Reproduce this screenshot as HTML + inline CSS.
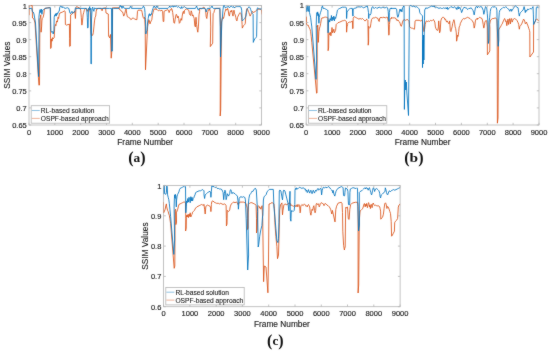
<!DOCTYPE html>
<html><head><meta charset="utf-8"><title>SSIM figure</title>
<style>
html,body{margin:0;padding:0;background:#fff;}
body{width:550px;height:352px;overflow:hidden;}
svg{display:block;}
.tk{font-family:"Liberation Sans",Arial,sans-serif;font-size:7.5px;fill:#1e1e1e;stroke:#1e1e1e;stroke-width:0.15px;}
.al{font-family:"Liberation Sans",Arial,sans-serif;font-size:8.3px;fill:#1e1e1e;stroke:#1e1e1e;stroke-width:0.15px;}
.lg{font-family:"Liberation Sans",Arial,sans-serif;font-size:6.65px;fill:#1a1a1a;stroke:#1a1a1a;stroke-width:0.1px;}
.cap{font-family:"Liberation Serif","Times New Roman",serif;font-size:13.3px;font-weight:bold;fill:#111;}
.par{font-size:16px;font-weight:bold;}
</style></head><body>
<svg width="550" height="352" viewBox="0 0 550 352">
<defs><filter id="soft" x="0" y="0" width="550" height="352" filterUnits="userSpaceOnUse" color-interpolation-filters="sRGB"><feConvolveMatrix order="3" kernelMatrix="1 2 1 2 32 2 1 2 1" divisor="44" edgeMode="duplicate"/></filter></defs>
<g filter="url(#soft)">
<rect width="550" height="352" fill="#fff"/>
<clipPath id="clipa"><rect x="29" y="4.5" width="232.5" height="120.5"/></clipPath>
<rect x="29" y="5.5" width="232.5" height="119.5" fill="none" stroke="#b4b4b4" stroke-width="0.8"/>
<g clip-path="url(#clipa)" fill="none" stroke-width="0.85" stroke-linejoin="round">
<polyline points="29,15.2 29.1,5.6 32.2,5.6 32.5,18 33.5,18.5 34.2,20 35,23 38.9,85.2 39.5,85 39.8,30 39.2,19.7 39.9,18.5 40.4,17.3 40.8,14.9 41.1,32.2 41.6,26.9 41.9,20.9 42.3,18.5 43.1,17.3 43.7,14.9 44.3,10.2 44.9,8.4 47.9,7.8 49.7,7.5 50.3,8.4 50.5,38.8 50.6,48.5 51.2,47.5 51.5,38.8 52.1,41.2 52.7,37.6 53.2,38.8 54.2,37.6 54.7,26.9 55.4,24.5 55.9,25.7 56.6,20.9 57.4,22.1 58,17.3 58.6,18.5 59.2,14.9 59.8,13.1 61,12.6 62.8,11.9 64.6,10.8 65.2,11.9 65.4,24.5 66.4,25.1 68.2,24.5 69,24.5 69.4,23.9 69.6,38.8 69.7,46.5 70.3,46 70.6,14.9 71.8,14.3 73,12.6 74.2,11.9 74.8,11.3 75.4,18.5 76,7.8 76.6,6.6 77.8,7.2 79,7.8 80.1,8.4 80.7,10.2 81.3,17.3 81.9,25.1 82.5,20.9 83.1,14.9 83.7,12.6 84.3,10.2 85.5,8.4 86.7,9.6 87.3,11.3 87.9,9.6 89.1,8.4 89.7,10.2 90.3,12.6 90.9,32.8 91.5,35.8 92.7,35.2 93.3,32.8 93.9,26.9 94.5,20.9 95.1,17.3 95.7,16.1 96.2,11.3 96.8,9 98.6,8.4 101,8.4 101.6,10.2 102.2,10.8 102.8,8.4 105.8,7.8 105.7,8.8 106,13 108.3,14 108.6,36 109.6,37.8 110.5,34.5 111.2,58.2 111.7,53 112.2,41 112.5,7.8 113.6,7.8 119,7.8 119.6,9.6 120.8,10.2 121.3,11.3 122.5,11.9 123.1,13.7 123.7,16.1 124.3,14.9 124.9,13.1 125.5,10.2 126.1,9 126.7,13.7 127.3,16.7 128.5,17.3 129.7,17.9 130.9,19.7 132.1,18.5 133.3,17.9 134.5,19.1 136.9,19.7 137.5,11.3 138.1,10.2 141.6,10.2 142.2,12.6 142.8,16.1 143.4,17.9 144,18.5 144.6,17.3 145.2,26.9 145.5,69.8 147.6,26.9 148.2,23.3 148.8,19.7 149.4,20.9 150,23.9 150.6,22.1 151.2,20.9 151.8,19.7 152.4,14.9 153,12.6 153.6,10.2 154.2,9 155.4,9 156,9.6 156,9 157.2,9.6 158.4,10.8 159.6,10.2 160.8,10.8 162,10.2 162.6,11.3 163.2,21.5 163.8,21.5 164.1,11.3 164.9,10.8 166.7,10.2 167.9,9.6 168.5,10.2 169.1,12.6 169.7,10.8 170.3,9.6 170.9,10.2 171.5,8.4 172.1,9.6 172.7,12.6 173.3,17.3 173.9,22.7 174.5,23.3 175.1,19.7 175.7,16.1 176.3,14.3 176.9,15.5 177.5,17.9 178.1,16.1 178.7,18.5 179.3,23.3 179.9,22.7 180.5,19.7 181.1,18.5 181.7,20.3 182.2,16.1 182.8,12.6 183.4,11.3 184,13.7 184.6,10.2 185.2,9.6 186.4,9 187.6,9.6 188.8,10.2 189.4,13.7 190,14.9 190.6,15.5 191.2,10.8 191.8,12.6 192.4,16.1 193,14.9 193.6,16.7 194.2,18.5 194.8,25.7 195.4,26.9 196,17.3 196.6,24.5 197.2,29.2 197.8,32.2 198.4,26.9 199,14.9 199.6,11.3 199.6,9 200.2,8.4 201.4,9 202.6,7.8 203.8,7.2 204.4,7.8 205,8.4 205.6,10.2 206.2,16.7 206.8,18.5 207.3,14.9 207.9,11.3 208.6,9.6 209.1,10.2 209.7,9 210.3,11.3 210.7,26.9 210.3,46.6 212.7,43.2 212.8,30 213.1,13.7 213.9,12.6 214.5,10.2 215.1,9 215.7,8.4 218.1,8.4 219.3,8.4 219.9,9 220.5,26.9 220.2,116 220.7,110 221.5,22 222.3,18.5 222.9,17.3 223.5,18.5 224.1,16.1 224.7,12.6 225.2,11.3 225.8,9 227,10.2 227.6,8.4 228.2,10.2 228.8,14.9 229.4,16.1 230,12.6 230.6,10.8 231.2,11.9 231.8,10.2 232.4,13.7 233,16.1 233.4,12.6 234,10.2 234.6,13.7 235.2,14.9 235.8,17.3 236.3,19.7 236.9,20.9 237.6,17.3 238.1,16.1 238.7,14.9 239.3,13.7 239.9,12.6 240.5,13.1 241.1,13.7 241.7,17.3 242.1,24.5 242.3,28.1 242.9,26.9 243.5,25.7 244.1,25.1 244.7,24.5 245.3,23.3 245.9,13.7 246.5,10.2 247.1,8.4 247.7,9.6 248.3,11.3 248.9,12.6 249.5,14.3 250.1,16.1 250.7,14.9 251.3,13.7 251.9,12.6 252.5,11.3 253.1,11.9 253.7,12.6 254.2,11.9 255.4,11.3 256.6,10.2 257.8,9.6 259,9 260.2,9 261.4,10.2 262,13.7 262.4,14.9" stroke="#D95319"/>
<polyline points="29,8.7 31.8,8.2 32.3,11.5 33.2,12 34,14 34.5,17 35.5,23 38.6,76.6 39,30 38.9,17.3 39.5,11.9 40.1,9.6 40.7,12.6 41.3,9 41.9,14.3 42.5,10.2 43.7,9.6 44.9,8.4 47.3,8 49.7,7.8 50.3,7.5 50.9,30.4 51.5,32.2 52.7,31.6 53.2,34 53.9,31 54.2,17.3 54.7,14.9 55.4,15.5 55.6,13.7 56.2,16.1 56.8,13.1 57.4,14.3 58.3,11.9 59.2,11.3 59.8,7.2 60.6,6 61.6,6.6 62.2,7.8 62.8,6.6 64,7.8 65.2,8.4 66.4,8 67.6,7.8 68.8,8.4 70,13.1 70.6,13.7 71.2,12.6 72,11.3 72.4,13.1 73.6,12.6 74.8,11.9 75.4,7.8 76,8.4 86.7,8.4 87.3,17.3 87.7,28.1 88.1,26.9 88.5,8.4 89.3,8.4 89.7,6.6 90,10.2 90.4,8.4 90.8,8.4 90.9,38.8 91,63.9 91.3,63.9 91.5,20 92.1,8.4 92.7,7.2 93.3,10.2 93.9,11.3 94.5,7.8 95.1,8.4 109.4,8.4 111.5,8.4 111.7,51.4 112.3,51 112.6,8.4 113.6,8.4 119,8.4 119.6,7.2 120.2,5.4 120.8,6.6 121.3,6 122,8.4 122.5,6.6 123.1,6 123.7,7.8 124.9,8.4 126.1,8.4 129.7,8.4 130.3,6.6 130.9,6 131.5,8.4 141.6,8.4 142.8,7.8 143.4,6 144,6.6 144.6,8.4 145,12.6 145.2,17.3 145.5,19.7 145.8,34 146.4,31.6 147,30.4 147.6,22.1 148.2,18.5 148.8,14.9 149.4,13.7 150,16.1 150.6,14.3 151.2,14.9 151.8,12.6 152.4,10.2 153,8.4 153.6,6.6 154.2,6 154.8,7.2 156,8.4 156,6.6 157.2,6 157.8,7.8 158.4,8.4 167.9,8.4 169.1,7.2 169.7,6 170.3,7.2 171.5,6.6 172.7,6 173.3,7.2 173.9,6 175.1,6.6 176.3,6 177.5,7.2 178.7,6.6 179.9,7.8 181.1,8.4 181.7,6.6 182.2,8.4 183.4,7.2 184.6,6.6 185.8,7.8 187,8.4 195.4,8.4 196,7.2 196.6,6 197.2,7.8 197.8,9 198.4,10.2 199,9 199,8.4 205,8.4 205.6,9.6 206.2,11.9 206.8,10.2 207.3,8.4 210.3,8.4 210.9,7.8 211.5,6.6 212.1,6 212.7,7.8 213.3,8.4 219.3,8.4 219.9,7.8 220.2,26.9 220.5,57 221,45 221.9,20.9 222.4,17.3 222.9,10.2 223.5,6 224.1,5.4 224.7,6.6 225.2,7.8 226.4,7.2 228.8,6.6 229.4,7.8 230,7.2 231.2,6 232.4,7.2 233.6,6.6 234,7.8 235.2,7.2 236.3,6.6 237.6,6.6 238.7,6.6 239.9,6.6 241.1,7.2 241.7,10.2 242.1,19.7 242.3,20.9 243.5,19.7 244.7,18.5 245.3,17.3 245.9,16.1 246.5,12.6 247.1,9 247.7,8.4 248.3,7.8 248.9,6.6 249.5,7.2 250.1,7.8 250.7,9.6 251.3,11.3 251.9,12.6 252.5,13.7 253.1,14.3 253.3,42.4 253.7,41.2 254.8,38.8 256,37.6 256.6,36.4 256.9,20.9 257.1,9 257.6,7.8 258.4,8.4 259.6,9 261.4,9 262.6,8.4" stroke="#0072BD"/>
</g>
<line x1="29" y1="5.5" x2="31.2" y2="5.5" stroke="#b4b4b4" stroke-width="0.8"/>
<line x1="261.5" y1="5.5" x2="259.3" y2="5.5" stroke="#b4b4b4" stroke-width="0.8"/>
<text x="26.8" y="8.5" class="tk" text-anchor="end">1</text>
<line x1="29" y1="22.6" x2="31.2" y2="22.6" stroke="#b4b4b4" stroke-width="0.8"/>
<line x1="261.5" y1="22.6" x2="259.3" y2="22.6" stroke="#b4b4b4" stroke-width="0.8"/>
<text x="26.8" y="25.6" class="tk" text-anchor="end">0.95</text>
<line x1="29" y1="39.6" x2="31.2" y2="39.6" stroke="#b4b4b4" stroke-width="0.8"/>
<line x1="261.5" y1="39.6" x2="259.3" y2="39.6" stroke="#b4b4b4" stroke-width="0.8"/>
<text x="26.8" y="42.6" class="tk" text-anchor="end">0.9</text>
<line x1="29" y1="56.7" x2="31.2" y2="56.7" stroke="#b4b4b4" stroke-width="0.8"/>
<line x1="261.5" y1="56.7" x2="259.3" y2="56.7" stroke="#b4b4b4" stroke-width="0.8"/>
<text x="26.8" y="59.7" class="tk" text-anchor="end">0.85</text>
<line x1="29" y1="73.8" x2="31.2" y2="73.8" stroke="#b4b4b4" stroke-width="0.8"/>
<line x1="261.5" y1="73.8" x2="259.3" y2="73.8" stroke="#b4b4b4" stroke-width="0.8"/>
<text x="26.8" y="76.8" class="tk" text-anchor="end">0.8</text>
<line x1="29" y1="90.9" x2="31.2" y2="90.9" stroke="#b4b4b4" stroke-width="0.8"/>
<line x1="261.5" y1="90.9" x2="259.3" y2="90.9" stroke="#b4b4b4" stroke-width="0.8"/>
<text x="26.8" y="93.9" class="tk" text-anchor="end">0.75</text>
<line x1="29" y1="107.9" x2="31.2" y2="107.9" stroke="#b4b4b4" stroke-width="0.8"/>
<line x1="261.5" y1="107.9" x2="259.3" y2="107.9" stroke="#b4b4b4" stroke-width="0.8"/>
<text x="26.8" y="110.9" class="tk" text-anchor="end">0.7</text>
<line x1="29" y1="125" x2="31.2" y2="125" stroke="#b4b4b4" stroke-width="0.8"/>
<line x1="261.5" y1="125" x2="259.3" y2="125" stroke="#b4b4b4" stroke-width="0.8"/>
<text x="26.8" y="128" class="tk" text-anchor="end">0.65</text>
<line x1="29" y1="125" x2="29" y2="122.8" stroke="#b4b4b4" stroke-width="0.8"/>
<line x1="29" y1="5.5" x2="29" y2="7.7" stroke="#b4b4b4" stroke-width="0.8"/>
<text x="29" y="134.6" class="tk" text-anchor="middle">0</text>
<line x1="54.8" y1="125" x2="54.8" y2="122.8" stroke="#b4b4b4" stroke-width="0.8"/>
<line x1="54.8" y1="5.5" x2="54.8" y2="7.7" stroke="#b4b4b4" stroke-width="0.8"/>
<text x="54.8" y="134.6" class="tk" text-anchor="middle">1000</text>
<line x1="80.7" y1="125" x2="80.7" y2="122.8" stroke="#b4b4b4" stroke-width="0.8"/>
<line x1="80.7" y1="5.5" x2="80.7" y2="7.7" stroke="#b4b4b4" stroke-width="0.8"/>
<text x="80.7" y="134.6" class="tk" text-anchor="middle">2000</text>
<line x1="106.5" y1="125" x2="106.5" y2="122.8" stroke="#b4b4b4" stroke-width="0.8"/>
<line x1="106.5" y1="5.5" x2="106.5" y2="7.7" stroke="#b4b4b4" stroke-width="0.8"/>
<text x="106.5" y="134.6" class="tk" text-anchor="middle">3000</text>
<line x1="132.3" y1="125" x2="132.3" y2="122.8" stroke="#b4b4b4" stroke-width="0.8"/>
<line x1="132.3" y1="5.5" x2="132.3" y2="7.7" stroke="#b4b4b4" stroke-width="0.8"/>
<text x="132.3" y="134.6" class="tk" text-anchor="middle">4000</text>
<line x1="158.2" y1="125" x2="158.2" y2="122.8" stroke="#b4b4b4" stroke-width="0.8"/>
<line x1="158.2" y1="5.5" x2="158.2" y2="7.7" stroke="#b4b4b4" stroke-width="0.8"/>
<text x="158.2" y="134.6" class="tk" text-anchor="middle">5000</text>
<line x1="184" y1="125" x2="184" y2="122.8" stroke="#b4b4b4" stroke-width="0.8"/>
<line x1="184" y1="5.5" x2="184" y2="7.7" stroke="#b4b4b4" stroke-width="0.8"/>
<text x="184" y="134.6" class="tk" text-anchor="middle">6000</text>
<line x1="209.8" y1="125" x2="209.8" y2="122.8" stroke="#b4b4b4" stroke-width="0.8"/>
<line x1="209.8" y1="5.5" x2="209.8" y2="7.7" stroke="#b4b4b4" stroke-width="0.8"/>
<text x="209.8" y="134.6" class="tk" text-anchor="middle">7000</text>
<line x1="235.7" y1="125" x2="235.7" y2="122.8" stroke="#b4b4b4" stroke-width="0.8"/>
<line x1="235.7" y1="5.5" x2="235.7" y2="7.7" stroke="#b4b4b4" stroke-width="0.8"/>
<text x="235.7" y="134.6" class="tk" text-anchor="middle">8000</text>
<line x1="261.5" y1="125" x2="261.5" y2="122.8" stroke="#b4b4b4" stroke-width="0.8"/>
<line x1="261.5" y1="5.5" x2="261.5" y2="7.7" stroke="#b4b4b4" stroke-width="0.8"/>
<text x="261.5" y="134.6" class="tk" text-anchor="middle">9000</text>
<text x="145.2" y="145.3" class="al" text-anchor="middle">Frame Number</text>
<text transform="translate(9.6,65.2) rotate(-90)" class="al" text-anchor="middle">SSIM Values</text>
<rect x="31.2" y="105.7" width="78.4" height="17.5" fill="#fff" stroke="#b4b4b4" stroke-width="0.8"/>
<line x1="31.8" y1="110.5" x2="39.8" y2="110.5" stroke="#0072BD" stroke-width="0.8" stroke-opacity="0.55"/>
<line x1="31.8" y1="118.4" x2="39.8" y2="118.4" stroke="#D95319" stroke-width="0.8" stroke-opacity="0.55"/>
<text x="40.8" y="112.9" class="lg">RL-based solution</text>
<text x="40.8" y="121" class="lg">OSPF-based approach</text>
<text x="136.9" y="162.4" class="cap" text-anchor="middle"><tspan class="par" dy="0.9">(</tspan><tspan dy="-0.9">a</tspan><tspan class="par" dy="0.9">)</tspan></text>
<clipPath id="clipb"><rect x="306.2" y="4.4" width="232.8" height="120.6"/></clipPath>
<rect x="306.2" y="5.4" width="232.8" height="119.6" fill="none" stroke="#b4b4b4" stroke-width="0.8"/>
<g clip-path="url(#clipb)" fill="none" stroke-width="0.85" stroke-linejoin="round">
<polyline points="306.4,16.7 306.6,24.5 307.3,25.1 308.2,25.1 308.8,26.9 309.4,28.1 310,29.2 310.6,31.6 311.2,36.4 311.8,42.4 316.6,93.2 317,93 317.3,28 316.9,25.7 317.4,26.9 317.8,25.1 318.3,42.4 318.9,31.6 319.5,28.1 320.1,26.3 320.7,23.3 321.3,19.7 321.9,17.9 323.1,17.9 324.3,17.3 325.5,17.1 326.7,17.3 327.3,17.3 327.9,17.9 328.1,38.8 328.1,50.7 328.6,48 328.8,36 329.1,33.4 329.7,34.6 330.2,32.2 330.9,35.8 331.4,32.8 332,27.5 332.6,32.8 333.2,31 333.8,29.2 334.4,32.8 335,31.6 335.6,30.4 336.2,24.5 336.8,23.9 338,22.7 339.8,22.1 341,21.5 342.2,20.9 343.4,20.7 344.6,20.3 345.8,20.9 346.4,21.5 346.6,32.2 347,26.9 347.6,24.5 347.6,23.3 348.2,22.7 349.4,22.1 350.6,22.1 351.8,21.5 352.4,20.9 352.7,28.7 353,28.1 353.2,18.5 353.6,17.3 354.2,16.7 355.4,17.3 356.6,17.9 357.7,18.5 358.9,19.1 360.1,18.5 361.3,19.1 362.5,18.5 363.7,19.7 364.9,20.9 366.1,20.3 366.7,19.1 367.3,19.7 367.9,20.3 368.2,38.8 368.2,45.2 368.6,42 368.7,26.3 369.1,27.5 369.7,28.1 370.3,27.5 370.9,23.3 371.5,19.7 372.1,18.5 373.2,17.9 374.4,17.9 375.6,17.3 376.8,17.9 378,18.5 378.6,20.9 379.2,21.5 379.8,17.9 381,17.3 382.2,17.9 382.8,17.3 384,17.3 385.2,17.9 386.4,17.3 387.6,17.3 388.2,20.9 388.8,35.2 389.1,34 389.4,24.5 390,19.7 390.6,18.5 392,17.9 391.2,17.9 392.4,17.9 394.8,17.9 396,18.5 396.6,20.3 397.2,19.7 397.8,20.9 398.4,20.3 398.9,21.5 399.6,22.1 400.1,23.3 400.7,25.7 401.3,26.3 401.9,24.5 402.5,22.1 403.1,20.3 404.3,19.7 405.5,20.3 406.7,19.7 407.9,19.7 408.5,20.3 409.1,20.9 409.7,26.9 410.3,27.5 411.5,28.1 412.7,28.3 413.9,29 414.5,29.2 415.1,20.9 415.7,20.3 416.9,20.3 418,20.3 419.2,20.3 420.4,20.9 421.6,20.3 422.2,20.3 422.8,24.5 423.4,28.1 424,31.6 424.6,29.2 425.2,24.5 425.8,22.1 426.4,20.9 427.6,21.5 428.8,20.9 429.4,21.5 430.6,20.3 431.8,20.9 433,19.7 433.6,19.7 434.2,20.9 434.8,22.1 435.4,26.9 436,28.7 436.6,29.9 437.8,30.4 438.4,26.9 438.7,20.9 439,24.5 439.6,32.8 440.2,31 440.8,20.9 441.4,19.1 441.9,17.9 442.6,17.3 443.1,17.9 443.7,17.3 444.3,17.9 444.9,19.7 445.5,19.1 446.1,20.9 446.7,22.1 447.3,20.9 447.9,22.1 448.5,23.3 449.1,23.9 449.7,20.9 450.3,30.4 450.9,31.6 451.5,29.2 452.1,26.9 452.7,23.3 453.3,21.5 453.9,19.7 454.5,22.1 455.1,26.9 455.7,28.7 456.3,32.8 456.6,41.2 457.1,38.8 457.5,35.2 458.1,36.4 458.7,31.6 459.2,26.9 459.9,25.7 460.4,23.3 461,22.1 461.6,20.9 462.2,19.7 463.4,18.5 464,19.1 465.2,18.5 466.4,17.9 467.6,17.3 468.8,17.9 470,18.5 471.2,19.7 472.4,20.9 473.6,23.3 474.2,28.1 474.8,25.7 475.4,20.9 476,19.1 478,18.5 477.2,19.1 478.4,18.5 479.6,17.3 480.8,17.9 482,18.5 482.6,20.9 483.2,24.5 483.8,28.1 484.4,25.7 484.9,22.1 485.6,20.9 486.1,20.3 486.7,20.9 487.3,26.9 487.4,54.8 489.8,51 489.9,28 489.7,24.5 490.3,20.9 491.5,19.1 492.7,18.5 493.9,18.5 495.1,17.9 496.3,18.5 496.9,19.7 497.2,26.9 497.4,123.2 498,118 498.6,30 499.6,28.1 500.5,26.9 501.1,25.7 501.7,24.5 502.2,23.9 503.4,20.9 504.6,18.5 505.2,19.7 505.6,21.5 506.2,20.9 506.8,25.7 507.4,22.1 508,19.1 508.6,24.5 509.2,20.9 509.8,18.5 510.4,23.9 511,19.7 511.6,18.5 512.2,22.1 512.8,20.3 513.4,19.1 514.5,18.5 515.7,19.1 516.9,20.3 518.1,22.7 518.7,24.5 519.3,29.2 519.9,26.3 520.5,25.7 521.7,23.9 522.9,20.9 523.5,19.1 524.1,19.7 524.7,20.9 525.3,23.9 525.9,23.3 526.5,22.1 527.1,23.9 527.7,25.1 528.3,26.9 528.9,28.7 529.5,30.4 529.8,32.2 529.9,57 533.5,52 533.6,25 534.8,22.1 536,19.7 536.6,19.1 537.2,19.1 537.8,19.7 538.4,20.9" stroke="#D95319"/>
<polyline points="306.4,11.9 306.6,6.6 307.3,6 307.8,11.3 308.5,11.3 308.8,6.6 309.2,6 309.5,12.6 310,14.9 310.6,17.3 311.2,22.1 311.8,26.9 312.4,34 316,79.3 316.6,60 316.2,25.7 316.5,16.1 316.9,12.6 317.4,14.3 317.7,11.9 318.1,16.1 318.3,13.7 318.9,23.3 319.3,17.3 319.8,14.9 320.5,12.6 321.3,10.2 321.7,8.4 321.9,6.6 322.5,6 323.1,8.4 324.3,8.4 325.5,9 326.7,9.6 327.3,10.2 327.9,10.2 328.1,32.8 328.5,20.9 329.1,19.7 329.7,22.1 330.2,18.5 330.9,20.3 331.4,15.5 332,20.9 332.6,17.3 333.2,19.7 333.8,16.1 334.4,20.9 335,17.3 335.6,18.5 336.2,16.1 336.8,13.7 337.4,10.2 338.6,9 339.8,8.4 341,7.8 342.2,7.2 344.6,7.2 345.8,7.2 346.4,7.8 346.6,18.5 347,12.6 347.6,11.3 347.6,11.3 348.2,10.2 349.4,9 350.6,8.4 352.4,8.4 352.7,14.9 353,16.1 353.2,9 354.2,8.4 356.6,7.8 357.1,6.6 357.7,7.2 358.9,6.6 360.1,7.2 361.3,6.6 362.5,7.2 363.7,7.8 364.9,7.2 366.1,6.6 367.3,6 367.9,8.4 368.5,12.6 368.7,18.5 369.1,14.9 369.7,14.3 370.3,14.9 370.9,13.7 371.5,9 372.1,7.2 372.7,6.6 373.2,7.8 374.4,8.4 375.6,7.2 376.8,8.4 378,7.8 379.2,7.2 380.4,7.8 381.6,7.8 382.8,7.2 384,7.8 385.2,7.8 386.4,7.2 387.6,7.8 388.2,11.3 388.8,20.9 389,21.5 389.4,12.6 390,8.4 392,8.4 391.2,8.4 396,8.4 396.6,9 397.2,14.9 397.8,17.3 398.4,16.1 398.9,13.7 399.6,10.2 400.1,9 400.7,11.3 401.3,9.6 401.9,11.9 402.5,7.8 403.1,7.2 403.7,6 404.1,6 404.4,109.4 404.8,84 405.3,80 405.8,90 406.3,82 406.8,92 408.5,115.5 409.4,6 410.3,5.4 411.5,6 412.7,6.6 413.9,6 415.1,7.2 416.2,6.6 417.4,7.2 418.6,8.4 419.2,9 419.8,12.6 420.4,13.7 421,14.3 421.6,14.9 422.2,15.5 422.5,16.1 422.5,67.6 422.9,40 423.2,64 423.6,35 423.9,60 424.3,30 424.7,10 425.8,7.8 427,8.4 428.2,7.8 429.4,7.2 430.6,6.6 431.8,6 433,6.6 434.1,6 435,6.6 434.2,6.6 435.4,7.8 436.6,7.2 437.8,7.8 439,8.4 440.2,7.8 441.4,8.4 442.6,8.4 443.7,7.8 444.9,8.4 446.1,7.8 446.7,9 447.3,7.2 447.9,9.6 448.5,8.4 449.7,7.8 450.9,6.6 452.1,7.2 453.3,7.8 454.5,6.6 455.7,8.4 456.3,7.8 456.9,9.6 457.5,7.8 458.1,6.6 458.7,9 459.2,7.8 459.9,7.2 460.4,9 461,10.2 461.6,12.6 462.2,11.3 462.8,9 463.4,8.4 464,7.2 465.2,7.8 466.4,7.8 467.6,9.6 468.8,8.4 470,8.4 471.2,7.8 472.4,9.6 473,10.2 473.6,12.6 474.2,14.9 474.8,11.3 475.4,7.8 476,6.6 478,7.2 477.2,7.8 478.4,6.6 479.6,7.2 480.8,6.6 482,7.2 482.6,9 483.2,10.2 483.8,14.3 484.4,12.6 484.9,9 485.6,6.6 486.1,7.2 486.7,7.8 487.3,13.7 487.9,22.1 488.3,43.5 488.9,40 489.1,22.1 489.7,17.3 490.3,11.3 490.9,8.4 491.5,7.8 492.7,6.6 493.9,7.2 495.1,6.6 496.3,7.8 496.9,10.2 497.2,26.9 498.2,46.3 498.8,40 498.7,20.9 499.3,12.6 499.9,10.2 501.1,9 502.2,8.4 503.4,7.2 504.6,7.8 505.8,6.6 506.2,7.2 507.4,8.4 508.6,9 509.8,11.3 510.4,10.2 511,9 511.6,11.3 512.2,10.2 513.4,8.4 514.5,6.6 515.7,6 516.9,7.2 518.1,7.8 518.7,12.6 519.3,16.1 519.9,13.7 520.5,12.6 521.7,11.3 522.9,10.2 523.5,9 524.1,6.6 524.7,9 525.3,12.6 525.9,10.2 526.5,11.3 527.7,9 528.9,9.6 530.1,8.4 531.2,9 532.5,7.8 533,6.6 533.4,14.9 533.6,24.5 534.2,23.3 534.8,22.1 535.4,20.9 536,18.5 536.3,7.8 536.6,7.2 537.2,6.6 537.8,7.8 538.4,7.8" stroke="#0072BD"/>
</g>
<line x1="306.2" y1="5.4" x2="308.4" y2="5.4" stroke="#b4b4b4" stroke-width="0.8"/>
<line x1="539" y1="5.4" x2="536.8" y2="5.4" stroke="#b4b4b4" stroke-width="0.8"/>
<text x="304" y="8.4" class="tk" text-anchor="end">1</text>
<line x1="306.2" y1="22.5" x2="308.4" y2="22.5" stroke="#b4b4b4" stroke-width="0.8"/>
<line x1="539" y1="22.5" x2="536.8" y2="22.5" stroke="#b4b4b4" stroke-width="0.8"/>
<text x="304" y="25.5" class="tk" text-anchor="end">0.95</text>
<line x1="306.2" y1="39.6" x2="308.4" y2="39.6" stroke="#b4b4b4" stroke-width="0.8"/>
<line x1="539" y1="39.6" x2="536.8" y2="39.6" stroke="#b4b4b4" stroke-width="0.8"/>
<text x="304" y="42.6" class="tk" text-anchor="end">0.9</text>
<line x1="306.2" y1="56.7" x2="308.4" y2="56.7" stroke="#b4b4b4" stroke-width="0.8"/>
<line x1="539" y1="56.7" x2="536.8" y2="56.7" stroke="#b4b4b4" stroke-width="0.8"/>
<text x="304" y="59.7" class="tk" text-anchor="end">0.85</text>
<line x1="306.2" y1="73.7" x2="308.4" y2="73.7" stroke="#b4b4b4" stroke-width="0.8"/>
<line x1="539" y1="73.7" x2="536.8" y2="73.7" stroke="#b4b4b4" stroke-width="0.8"/>
<text x="304" y="76.7" class="tk" text-anchor="end">0.8</text>
<line x1="306.2" y1="90.8" x2="308.4" y2="90.8" stroke="#b4b4b4" stroke-width="0.8"/>
<line x1="539" y1="90.8" x2="536.8" y2="90.8" stroke="#b4b4b4" stroke-width="0.8"/>
<text x="304" y="93.8" class="tk" text-anchor="end">0.75</text>
<line x1="306.2" y1="107.9" x2="308.4" y2="107.9" stroke="#b4b4b4" stroke-width="0.8"/>
<line x1="539" y1="107.9" x2="536.8" y2="107.9" stroke="#b4b4b4" stroke-width="0.8"/>
<text x="304" y="110.9" class="tk" text-anchor="end">0.7</text>
<line x1="306.2" y1="125" x2="308.4" y2="125" stroke="#b4b4b4" stroke-width="0.8"/>
<line x1="539" y1="125" x2="536.8" y2="125" stroke="#b4b4b4" stroke-width="0.8"/>
<text x="304" y="128" class="tk" text-anchor="end">0.65</text>
<line x1="306.2" y1="125" x2="306.2" y2="122.8" stroke="#b4b4b4" stroke-width="0.8"/>
<line x1="306.2" y1="5.4" x2="306.2" y2="7.6" stroke="#b4b4b4" stroke-width="0.8"/>
<text x="306.2" y="134.6" class="tk" text-anchor="middle">0</text>
<line x1="332.1" y1="125" x2="332.1" y2="122.8" stroke="#b4b4b4" stroke-width="0.8"/>
<line x1="332.1" y1="5.4" x2="332.1" y2="7.6" stroke="#b4b4b4" stroke-width="0.8"/>
<text x="332.1" y="134.6" class="tk" text-anchor="middle">1000</text>
<line x1="357.9" y1="125" x2="357.9" y2="122.8" stroke="#b4b4b4" stroke-width="0.8"/>
<line x1="357.9" y1="5.4" x2="357.9" y2="7.6" stroke="#b4b4b4" stroke-width="0.8"/>
<text x="357.9" y="134.6" class="tk" text-anchor="middle">2000</text>
<line x1="383.8" y1="125" x2="383.8" y2="122.8" stroke="#b4b4b4" stroke-width="0.8"/>
<line x1="383.8" y1="5.4" x2="383.8" y2="7.6" stroke="#b4b4b4" stroke-width="0.8"/>
<text x="383.8" y="134.6" class="tk" text-anchor="middle">3000</text>
<line x1="409.7" y1="125" x2="409.7" y2="122.8" stroke="#b4b4b4" stroke-width="0.8"/>
<line x1="409.7" y1="5.4" x2="409.7" y2="7.6" stroke="#b4b4b4" stroke-width="0.8"/>
<text x="409.7" y="134.6" class="tk" text-anchor="middle">4000</text>
<line x1="435.5" y1="125" x2="435.5" y2="122.8" stroke="#b4b4b4" stroke-width="0.8"/>
<line x1="435.5" y1="5.4" x2="435.5" y2="7.6" stroke="#b4b4b4" stroke-width="0.8"/>
<text x="435.5" y="134.6" class="tk" text-anchor="middle">5000</text>
<line x1="461.4" y1="125" x2="461.4" y2="122.8" stroke="#b4b4b4" stroke-width="0.8"/>
<line x1="461.4" y1="5.4" x2="461.4" y2="7.6" stroke="#b4b4b4" stroke-width="0.8"/>
<text x="461.4" y="134.6" class="tk" text-anchor="middle">6000</text>
<line x1="487.3" y1="125" x2="487.3" y2="122.8" stroke="#b4b4b4" stroke-width="0.8"/>
<line x1="487.3" y1="5.4" x2="487.3" y2="7.6" stroke="#b4b4b4" stroke-width="0.8"/>
<text x="487.3" y="134.6" class="tk" text-anchor="middle">7000</text>
<line x1="513.1" y1="125" x2="513.1" y2="122.8" stroke="#b4b4b4" stroke-width="0.8"/>
<line x1="513.1" y1="5.4" x2="513.1" y2="7.6" stroke="#b4b4b4" stroke-width="0.8"/>
<text x="513.1" y="134.6" class="tk" text-anchor="middle">8000</text>
<line x1="539" y1="125" x2="539" y2="122.8" stroke="#b4b4b4" stroke-width="0.8"/>
<line x1="539" y1="5.4" x2="539" y2="7.6" stroke="#b4b4b4" stroke-width="0.8"/>
<text x="539" y="134.6" class="tk" text-anchor="middle">9000</text>
<text x="422.6" y="145.3" class="al" text-anchor="middle">Frame Number</text>
<text transform="translate(286.8,65.2) rotate(-90)" class="al" text-anchor="middle">SSIM Values</text>
<rect x="308.4" y="105.7" width="78.4" height="17.5" fill="#fff" stroke="#b4b4b4" stroke-width="0.8"/>
<line x1="309" y1="110.5" x2="317" y2="110.5" stroke="#0072BD" stroke-width="0.8" stroke-opacity="0.55"/>
<line x1="309" y1="118.4" x2="317" y2="118.4" stroke="#D95319" stroke-width="0.8" stroke-opacity="0.55"/>
<text x="318" y="112.9" class="lg">RL-based solution</text>
<text x="318" y="121" class="lg">OSPF-based approach</text>
<text x="413.9" y="162.4" class="cap" text-anchor="middle"><tspan class="par" dy="0.9">(</tspan><tspan dy="-0.9" textLength="8.6" lengthAdjust="spacingAndGlyphs">b</tspan><tspan class="par" dy="0.9">)</tspan></text>
<clipPath id="clipc"><rect x="163.6" y="184.5" width="236.5" height="122.2"/></clipPath>
<rect x="163.6" y="185.5" width="236.5" height="121.2" fill="none" stroke="#b4b4b4" stroke-width="0.8"/>
<g clip-path="url(#clipc)" fill="none" stroke-width="0.85" stroke-linejoin="round">
<polyline points="163.4,202.1 163.6,212.8 164.3,211.6 165.2,209.2 165.8,205.7 166.4,203.9 166.7,206.9 167.6,210.4 168.2,211.6 168.8,214 169.3,215.2 169.9,218.8 170.6,223.6 174.2,268.3 174.8,266 175.1,215 175.1,210.4 175.6,209.2 175.8,211.6 175.9,224.6 176.5,222 176.3,212.8 177.1,211 177.7,209.2 178.3,206.9 178.9,204.5 180.1,203.9 181.3,203.3 182.5,202.7 183.7,202.1 184.9,202.1 185.5,202.7 185.8,218.8 185.6,231 186.2,228 186.3,217.6 186.7,215.2 187.2,217 187.8,214.6 188.4,217.6 189,214 189.6,216.4 190.2,212.8 190.8,217 191.4,215.2 192,214.6 192.6,212.2 193.2,211.6 194.4,210.4 195.6,208.1 196.8,206.9 198,206.3 199.2,205.7 200.4,205.1 201.6,204.5 202.8,205.1 204,205.1 204,204.5 204.6,209.2 205.2,214 205.8,206.9 206.4,205.7 207.6,205.1 208.8,205.7 210,206.3 210.6,206.9 210.9,211.6 211.4,204.5 211.8,201.5 212.9,200.9 214.1,202.1 215.3,202.7 216.5,203.3 218.3,203.3 219.5,203.9 220.7,203.3 221.9,203.9 223.1,204.5 224.3,203.9 225.5,204.5 226.1,205.7 226.4,218.8 226.4,225.9 227,224 227.3,210.4 227.9,211 228.5,211.6 229.1,211 229.7,209.8 230.2,206.9 230.8,205.1 231.4,203.9 232.6,202.7 233.8,202.1 235,202.7 236.2,202.1 237.4,202.7 238,204.5 238.6,203.9 239.2,202.7 239.8,202.1 241,202.1 242.2,202.1 243.4,202.1 244.6,202.7 244.8,202.1 245.4,202.7 246,203.9 246.6,205.7 247.2,208.1 247.4,218.8 247.5,229.5 248.1,228 248.4,205 248.3,203.9 249.6,203.3 250.7,202.7 251.9,202.7 253.1,203.3 254.3,203.9 255.5,204.5 256.1,205.7 256.5,218.8 256.5,233 257.1,230 257.9,206.9 258.5,205.7 259.1,206.3 259.7,208.1 260.3,207.5 260.9,209.2 261.5,206.9 262.1,205.7 262.7,218.8 263.6,281.7 264.3,266 266,267 267.9,292.8 268.5,260 269,204 270,203.9 271,202.9 272.9,202.9 273.9,203.9 274.5,208.8 274.9,222.8 275.9,236.7 276.9,246.6 277.5,258.7 278.5,255 279.7,210 280.5,204.9 281.9,202.9 282.5,214.8 282.9,210.8 283.9,204.9 284.9,203.9 286.9,204.9 288.9,202.9 290.8,203.9 290.6,205.7 291.2,205.1 292.4,205.7 293.6,206.3 294.8,205.1 295.4,205.7 296,206.9 296.6,205.1 297.2,204.5 297.8,206.9 298.4,205.1 298.9,204.5 299.6,205.7 300.1,212.8 300.5,211.6 300.7,206.9 301.3,205.1 301.9,204.5 303.1,205.7 303.7,205.1 304.3,203.9 304.9,204.5 305.5,205.1 306.1,206.3 306.7,205.7 307.3,206.9 307.9,205.1 308.5,204.5 309.1,205.7 309.7,206.9 310.3,212.8 310.9,215.2 311.5,211.6 312.1,209.2 312.7,210.4 313.3,206.9 313.9,205.7 314.5,210.4 315.1,212.8 315.7,210.4 316.2,203.9 316.9,203.3 317.4,204.5 318.6,203.9 319.2,206.9 319.8,205.7 320.4,203.3 321,202.7 322.2,203.3 323.4,203.9 324,205.7 324.6,204.5 325.2,203.3 325.8,203.9 327,205.1 328.2,205.7 329.4,206.9 330.6,209.2 331.2,211.6 331.8,214 332.4,210.4 335,221.9 335.8,209.4 336.6,206.2 338.1,203.1 341.2,202.3 342,203.1 342.5,212.5 342.8,231.2 343.6,245.3 344.4,250 344.7,248.4 345.2,246.9 345.6,209.4 345.9,207 346.7,207.8 347.5,207 348.3,218.8 349.1,219.5 349.8,209.4 350.6,204.7 352.2,203.1 355.3,202.3 357.7,202.3 358.1,206.2 358.1,293 358.7,285 359.3,220 360.1,211.1 361,210.3 361.8,209.4 362.7,208.6 363.5,206 363.9,204.3 364.4,203.5 364.8,205.2 365.2,206.9 365.7,204.3 366.1,206 366.5,203.5 366.9,205.2 367.4,207.7 367.8,206 368.2,203.5 368.6,202.6 369.1,204.3 369.5,206.9 369.9,205.2 370.4,208.6 370.8,206 371.2,204.3 371.6,205.2 372.1,207.7 372.5,205.2 372.9,203.5 373.3,203 373.8,204.3 374.2,205.2 374.6,205.6 375.5,205.2 376.3,205.6 377.2,206 378,205.6 378.9,206 379.7,206.9 380.1,208.6 380.6,211.1 380.8,219.2 381.9,217.8 382.6,217.1 383.4,214.2 384.1,208.5 384.8,203.6 385.5,202.8 386.2,204.3 386.9,208.5 387.6,206.4 388.3,207.1 389.1,209.2 389.8,211.4 390.5,213.5 391.2,221.3 391.6,236.2 392.2,235.5 393.3,233.4 394.4,231.2 394.7,222.7 395.4,221.3 396.9,219.9 397.6,218.5 398.3,207.1 399,205 399.7,204.3 400.4,204.3" stroke="#D95319"/>
<polyline points="163.4,194.3 163.6,186 164.3,185.4 164.6,193.7 165.8,194.3 166.4,192.6 166.7,186 167.2,186.6 167.6,194.9 168.2,197.3 168.8,199.7 169.3,203.3 169.9,209.2 170.6,216.4 173.8,254.4 174.6,240 174.1,206.9 174.4,198.5 174.7,194.9 175.1,198.5 175.3,194.3 175.9,196.1 176.3,206.9 176.5,200.9 177.1,196.1 177.7,194.3 178.3,193.1 178.9,191.9 179.5,189.6 180.1,188.4 181.3,187.8 182.5,187.2 183.7,186.6 184.3,186.6 184.9,187.2 185.5,186.6 185.8,212.8 186.3,206.9 186.7,200.9 187.2,202.7 187.8,198.5 188.4,202.1 189,197.3 189.6,199.7 190.2,202.7 190.8,196.7 191.4,200.9 192,197.3 192.6,200.9 193.2,198.5 193.8,197.9 194.4,196.1 195,194.9 195.6,192.6 196.8,191.9 198,191.3 199.2,190.8 200.4,190.8 201.6,190.2 202.8,189.6 204,190.8 204,194.9 204.6,198.5 205.2,194.9 206.4,193.7 207.6,192.6 208.8,191.9 210,191.3 210.6,191.9 210.9,197.3 211.4,191.3 211.8,186 212.9,186.6 214.1,186.6 215.3,187.8 215.9,187.2 217.1,188.4 218.3,188.4 219.5,189 220.7,189 221.9,189.6 222.5,191.3 223.1,192.6 223.7,199.7 224.3,193.7 224.9,190.2 225.5,191.3 226.1,199.7 226.7,197.3 227.3,193.7 227.9,194.9 228.5,196.1 229.1,194.9 229.7,193.7 230.2,190.2 230.8,189.6 231.4,191.3 232,193.7 232.6,192.6 233.2,192.6 233.8,193.1 235,193.7 236.2,194.9 237.4,196.1 238,200.9 238.4,209.2 238.6,206.9 239.2,198.5 239.8,197.3 241,196.7 242.2,197.3 243.4,196.7 244.6,197.3 244.8,197.3 245.4,199.7 245.7,206.9 246.2,218.8 247.7,270 248.6,255 247.8,212.8 248.3,204.5 248.9,198.5 249.6,194.9 250.7,193.7 251.3,192.6 251.9,191.3 253.1,191.3 253.7,190.2 254.3,189 254.9,188.4 255.5,188.4 256.3,190 257,202 257.6,211.4 258.2,247 258.7,244.8 259.7,236.3 260.8,229.9 261.9,225.6 262.5,217 262.9,215 263.4,200 264,196.9 265,195.8 266.1,194.7 267.2,191.5 268.3,190.5 269.3,189.4 273.3,189.4 273.9,206.9 274.9,216.8 275.9,228.7 276.9,240.7 277.9,242.6 278.5,238.7 278.9,222.8 279.3,190.9 279.9,190 280.9,190.9 281.9,196.9 282.5,199.9 283.3,190.9 283.9,190 284.9,190.9 285.9,194.9 286.9,198.9 287.9,202.9 288.9,210.8 290,191.3 290.4,218.8 290.9,221.2 291.2,212.8 291.8,210.4 293,211.6 294.2,210.4 294.8,204.5 295,190.2 295.4,188.4 296,189.6 296.6,187.8 297.2,189 298.4,188.4 299.6,187.2 300.7,187.8 301.9,188.4 303.1,187.8 304.3,188.4 304.9,189.6 305.5,189 306.1,191.3 306.7,190.2 307.3,192.6 307.9,191.3 308.5,189.6 309.1,191.9 309.7,193.1 310.3,191.3 310.9,190.2 311.5,192.6 312.1,193.7 312.7,191.3 313.3,190.2 313.9,191.9 314.5,193.1 315.1,191.3 315.7,190.2 316.2,191.3 316.9,190.2 317.4,189 318,188.4 318.6,190.2 319.2,189.6 319.8,189 321,188.4 321.6,194.9 322.2,190.2 322.8,188.4 323.4,187.2 324.6,187.8 325.8,187.2 327,187.8 328.2,186.6 329.4,187.2 330.6,189 331.8,190.2 332.4,191.3 333,193.1 333,190.2 333.6,192.6 334.2,194.9 334.8,196.1 335.4,193.7 336,191.3 336.6,190.2 337.8,188.4 339,187.8 340.2,187.2 341.4,186.6 342.6,187.2 343.1,187.8 343.5,194.9 344,196.1 344.7,195.5 344.9,192.6 345.5,187.8 346.1,188.4 347.3,189 347.9,191.3 348.3,200.9 348.5,204.5 349.1,205.1 349.7,203.9 349.9,192.6 350.3,189 351.5,188.4 352.7,187.8 353.9,187.8 355.1,188.4 356.3,188.4 356.9,187.8 357.5,188.4 357.8,206.9 358.6,231 359.4,225 359.3,192.4 360.1,191.5 361,191.1 361.8,190.7 362.7,189.8 363.5,189 364.4,188.1 365.2,187.7 365.7,189 366.1,188.1 366.9,187.7 367.8,189 368.2,190.2 368.6,188.5 369.5,187.7 369.9,189.4 370.4,191.1 370.8,192.4 371.2,194.1 371.6,194.9 372.1,193.2 372.5,190.7 372.9,189 373.3,187.7 373.8,188.1 374.2,189.8 374.6,191.5 375,190.2 375.5,189 376.3,188.5 377.2,189 378,189.8 378.9,190.7 379.7,193.2 380.1,196.6 380.6,197.9 381,195.8 381.4,194.9 382.3,194.1 383.1,193.2 384,192.4 385,191.5 385.3,187.8 385.9,189.6 386.5,192.6 387.1,194.3 387.7,194.9 388.3,193.1 388.9,191.3 389.5,190.8 390.1,191.9 390.7,191.3 391.2,190.8 392.4,190.2 393.6,189.6 394.8,190.2 396,189.6 397.2,189 398.4,188.4 399.6,187.8 400.2,187.8" stroke="#0072BD"/>
</g>
<line x1="163.6" y1="185.5" x2="165.8" y2="185.5" stroke="#b4b4b4" stroke-width="0.8"/>
<line x1="400.1" y1="185.5" x2="397.9" y2="185.5" stroke="#b4b4b4" stroke-width="0.8"/>
<text x="161.4" y="188.5" class="tk" text-anchor="end">1</text>
<line x1="163.6" y1="215.8" x2="165.8" y2="215.8" stroke="#b4b4b4" stroke-width="0.8"/>
<line x1="400.1" y1="215.8" x2="397.9" y2="215.8" stroke="#b4b4b4" stroke-width="0.8"/>
<text x="161.4" y="218.8" class="tk" text-anchor="end">0.9</text>
<line x1="163.6" y1="246.1" x2="165.8" y2="246.1" stroke="#b4b4b4" stroke-width="0.8"/>
<line x1="400.1" y1="246.1" x2="397.9" y2="246.1" stroke="#b4b4b4" stroke-width="0.8"/>
<text x="161.4" y="249.1" class="tk" text-anchor="end">0.8</text>
<line x1="163.6" y1="276.4" x2="165.8" y2="276.4" stroke="#b4b4b4" stroke-width="0.8"/>
<line x1="400.1" y1="276.4" x2="397.9" y2="276.4" stroke="#b4b4b4" stroke-width="0.8"/>
<text x="161.4" y="279.4" class="tk" text-anchor="end">0.7</text>
<line x1="163.6" y1="306.7" x2="165.8" y2="306.7" stroke="#b4b4b4" stroke-width="0.8"/>
<line x1="400.1" y1="306.7" x2="397.9" y2="306.7" stroke="#b4b4b4" stroke-width="0.8"/>
<text x="161.4" y="309.7" class="tk" text-anchor="end">0.6</text>
<line x1="163.6" y1="306.7" x2="163.6" y2="304.5" stroke="#b4b4b4" stroke-width="0.8"/>
<line x1="163.6" y1="185.5" x2="163.6" y2="187.7" stroke="#b4b4b4" stroke-width="0.8"/>
<text x="163.6" y="316.3" class="tk" text-anchor="middle">0</text>
<line x1="189.9" y1="306.7" x2="189.9" y2="304.5" stroke="#b4b4b4" stroke-width="0.8"/>
<line x1="189.9" y1="185.5" x2="189.9" y2="187.7" stroke="#b4b4b4" stroke-width="0.8"/>
<text x="189.9" y="316.3" class="tk" text-anchor="middle">1000</text>
<line x1="216.2" y1="306.7" x2="216.2" y2="304.5" stroke="#b4b4b4" stroke-width="0.8"/>
<line x1="216.2" y1="185.5" x2="216.2" y2="187.7" stroke="#b4b4b4" stroke-width="0.8"/>
<text x="216.2" y="316.3" class="tk" text-anchor="middle">2000</text>
<line x1="242.4" y1="306.7" x2="242.4" y2="304.5" stroke="#b4b4b4" stroke-width="0.8"/>
<line x1="242.4" y1="185.5" x2="242.4" y2="187.7" stroke="#b4b4b4" stroke-width="0.8"/>
<text x="242.4" y="316.3" class="tk" text-anchor="middle">3000</text>
<line x1="268.7" y1="306.7" x2="268.7" y2="304.5" stroke="#b4b4b4" stroke-width="0.8"/>
<line x1="268.7" y1="185.5" x2="268.7" y2="187.7" stroke="#b4b4b4" stroke-width="0.8"/>
<text x="268.7" y="316.3" class="tk" text-anchor="middle">4000</text>
<line x1="295" y1="306.7" x2="295" y2="304.5" stroke="#b4b4b4" stroke-width="0.8"/>
<line x1="295" y1="185.5" x2="295" y2="187.7" stroke="#b4b4b4" stroke-width="0.8"/>
<text x="295" y="316.3" class="tk" text-anchor="middle">5000</text>
<line x1="321.3" y1="306.7" x2="321.3" y2="304.5" stroke="#b4b4b4" stroke-width="0.8"/>
<line x1="321.3" y1="185.5" x2="321.3" y2="187.7" stroke="#b4b4b4" stroke-width="0.8"/>
<text x="321.3" y="316.3" class="tk" text-anchor="middle">6000</text>
<line x1="347.5" y1="306.7" x2="347.5" y2="304.5" stroke="#b4b4b4" stroke-width="0.8"/>
<line x1="347.5" y1="185.5" x2="347.5" y2="187.7" stroke="#b4b4b4" stroke-width="0.8"/>
<text x="347.5" y="316.3" class="tk" text-anchor="middle">7000</text>
<line x1="373.8" y1="306.7" x2="373.8" y2="304.5" stroke="#b4b4b4" stroke-width="0.8"/>
<line x1="373.8" y1="185.5" x2="373.8" y2="187.7" stroke="#b4b4b4" stroke-width="0.8"/>
<text x="373.8" y="316.3" class="tk" text-anchor="middle">8000</text>
<line x1="400.1" y1="306.7" x2="400.1" y2="304.5" stroke="#b4b4b4" stroke-width="0.8"/>
<line x1="400.1" y1="185.5" x2="400.1" y2="187.7" stroke="#b4b4b4" stroke-width="0.8"/>
<text x="400.1" y="316.3" class="tk" text-anchor="middle">9000</text>
<text x="281.9" y="327" class="al" text-anchor="middle">Frame Number</text>
<text transform="translate(148.3,246.1) rotate(-90)" class="al" text-anchor="middle">SSIM Values</text>
<rect x="165.8" y="287.4" width="78.4" height="17.5" fill="#fff" stroke="#b4b4b4" stroke-width="0.8"/>
<line x1="166.4" y1="292.2" x2="174.4" y2="292.2" stroke="#0072BD" stroke-width="0.8" stroke-opacity="0.55"/>
<line x1="166.4" y1="300.1" x2="174.4" y2="300.1" stroke="#D95319" stroke-width="0.8" stroke-opacity="0.55"/>
<text x="175.4" y="294.6" class="lg">RL-based solution</text>
<text x="175.4" y="302.7" class="lg">OSPF-based approach</text>
<text x="275.4" y="344.6" class="cap" text-anchor="middle"><tspan class="par" dy="0.9">(</tspan><tspan dy="-0.9">c</tspan><tspan class="par" dy="0.9">)</tspan></text>
</g>
</svg>
</body></html>
